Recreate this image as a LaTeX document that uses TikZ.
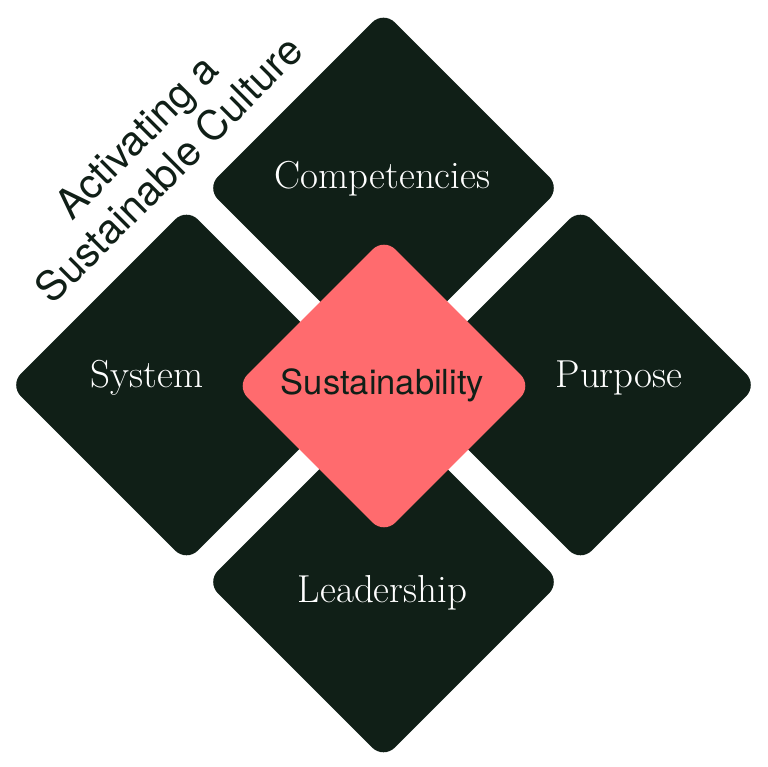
\documentclass[tikz,border=0pt]{standalone}
\usepackage{tikz}
\usetikzlibrary{shapes.geometric}
\usepackage{fontspec}
\newfontfamily\heros{TeX Gyre Heros}
\definecolor{dk}{RGB}{16,31,23}
\definecolor{cr}{RGB}{255,107,110}
\tikzset{
  tile/.style={diamond, aspect=1, inner sep=0pt, rounded corners=16pt, fill=dk,
    minimum width=354pt, minimum height=354pt},
  core/.style={tile, fill=cr, minimum width=296pt, minimum height=296pt},
  lab/.style={anchor=base, white, font=\fontsize{39}{43}\selectfont},
}

\begin{document}
\begin{tikzpicture}[x=1pt,y=1pt]
\useasboundingbox (-383.5,-382) rectangle (384.5,385);
\node[tile] (comp) at (0,197) {};
\node[tile] (sys) at (-197,0) {};
\node[tile] (purp) at (197,0) {};
\node[tile] (lead) at (0,-197) {};
\node[core] (sus) at (0.5,-1) {};
\node[lab] (tcomp) at (-1,196) {Competencies};
\node[lab] (tsys) at (-236.5,-3) {System};
\node[lab] (tpurp) at (235.5,-3) {Purpose};
\node[lab] (tlead) at (-1,-218) {Leadership};
\node[anchor=base, dk, font=\heros\fontsize{34.5}{38}\selectfont] (tsus) at (-1,-10) {Sustainability};
\node[rotate=45, align=center, dk, font=\heros\fontsize{41}{46}\selectfont] (title) at (-231,232) {Activating a\\Sustainable Culture};
\end{tikzpicture}
\end{document}
